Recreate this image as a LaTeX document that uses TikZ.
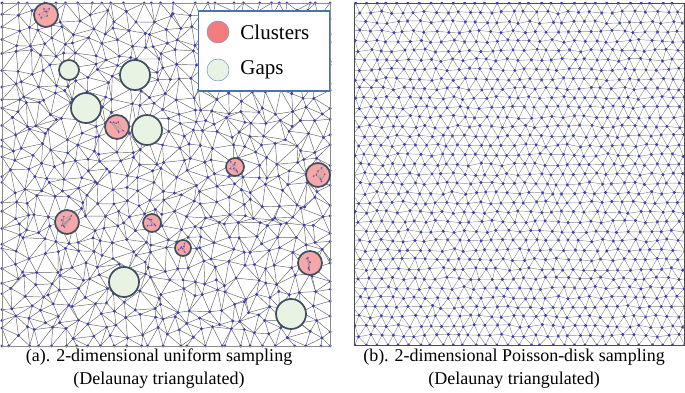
\documentclass[tikz,border=0pt]{standalone}
\usepackage{fontspec}
\setmainfont{Liberation Serif}
\usetikzlibrary{positioning}
\definecolor{meshdot}{RGB}{58,58,190}
\definecolor{innerdot}{RGB}{140,60,190}
\definecolor{clusterfill}{RGB}{246,168,168}
\definecolor{keyred}{RGB}{244,124,124}
\definecolor{gapfill}{RGB}{232,243,228}
\definecolor{ringcol}{RGB}{62,80,96}
\definecolor{legendcol}{RGB}{72,116,170}
\definecolor{keyring}{RGB}{110,150,200}

\begin{document}
\begin{tikzpicture}[x=1pt,y=-1pt]
\useasboundingbox (0,0) rectangle (685,393);
\tikzset{meshline/.style={draw=black!62,line width=0.45pt},
  meshlight/.style={draw=black!45,line width=0.45pt},
  innerline/.style={draw=black!40,line width=0.3pt},
  meshpt/.style={fill=meshdot},
  clusterbg/.style={fill=clusterfill},
  gapbg/.style={fill=gapfill},
  ring/.style={draw=ringcol,line width=1.7pt},
  keydot/.style={circle,minimum size=22pt,inner sep=0pt,line width=0.5pt,draw=keyring},
  keytext/.style={font=\fontsize{21}{25}\selectfont,inner sep=0pt},
  captext/.style={align=center,font=\fontsize{18}{23}\selectfont}}

% (a) uniform sampling
\pgfmathsetseed{11}
\foreach \i in {0,...,26}{
  \foreach \j in {0,...,26}{
    \pgfmathsetmacro\px{2+\i*12.62+(\i>0)*(\i<26)*rand*6}
    \pgfmathsetmacro\py{3+\j*13.19+(\j>0)*(\j<26)*rand*6.2}
    \expandafter\xdef\csname lx\i-\j\endcsname{\px}
    \expandafter\xdef\csname ly\i-\j\endcsname{\py}
    \coordinate (L-\i-\j) at (\px,\py);
  }}
\foreach \j in {0,...,26}
  \draw[meshline] (L-0-\j) \foreach \i in {1,...,26}{ -- (L-\i-\j)};
\foreach \i in {0,...,26}
  \draw[meshline] (L-\i-0) \foreach \j in {1,...,26}{ -- (L-\i-\j)};
\foreach \i [evaluate=\i as \k using int(\i+1)] in {0,...,25}{
  \foreach \j [evaluate=\j as \l using int(\j+1)] in {0,...,25}{
    \pgfmathtruncatemacro\pick{veclen(\csname lx\i-\j\endcsname-\csname lx\k-\l\endcsname,\csname ly\i-\j\endcsname-\csname ly\k-\l\endcsname)<veclen(\csname lx\k-\j\endcsname-\csname lx\i-\l\endcsname,\csname ly\k-\j\endcsname-\csname ly\i-\l\endcsname)}
    \ifnum\pick=1 \draw[meshline] (L-\i-\j) -- (L-\k-\l);\else\draw[meshline] (L-\k-\j) -- (L-\i-\l);\fi
  }}
\foreach \i in {0,...,26}
  \foreach \j in {0,...,26}
    \fill[meshpt] (L-\i-\j) circle (1.6pt);
\draw[black!45,line width=0.5pt] (2,3) rectangle (330,346);

\foreach \cx/\cy/\rr in {46/15/12,117/127/12,235/167/9,318/175/12,67/222/12,152/223/9,183/248/8,310/263/12}{
  \fill[clusterbg] (\cx,\cy) circle (\rr pt);
  \foreach \n in {1,...,7}
    \coordinate (P\n) at ({\cx+0.6*\rr*rand},{\cy+0.6*\rr*rand});
  \draw[innerline] (P1) -- (P2) -- (P3) -- (P1) -- (P4) -- (P5) -- (P6) -- (P4) (P2) -- (P5) (P3) -- (P6) -- (P7) -- (P1);
  \foreach \n in {1,...,7}
    \fill[innerdot] (P\n) circle (0.9pt);
  \draw[ring] (\cx,\cy) circle (\rr pt);
}
\foreach \cx/\cy/\rr in {69/70/10,135/75/15,86/108/15,147/130/15,124/282/15,291/314/15}
  \draw[ring,gapbg] (\cx,\cy) circle (\rr pt);

\node[draw=legendcol,line width=1.6pt,fill=white,minimum width=131pt,minimum height=80pt] (legend) at (264,51) {};
\node[keydot,fill=keyred] (keyC) at (218,32) {};
\node[keydot,fill=gapfill] (keyG) at (218,70) {};
\node[keytext] (labC) [right =11pt of keyC] {Clusters};
\node[keytext] (labG) [right =11pt of keyG] {Gaps};

% (b) Poisson-disk sampling
\begin{scope}
\clip (354,3) rectangle (684,345);
\foreach \j in {0,...,36}{
  \foreach \i in {0,...,31}{
    \coordinate (R-\i-\j) at ({354+(\i-1+0.5*mod(\j,2))*11+rand*1.7},{3+\j*9.5+(\j>0)*(\j<36)*rand*1.5});
  }}
\foreach \j in {0,...,36}
  \draw[meshlight] (R-0-\j) \foreach \i in {1,...,31}{ -- (R-\i-\j)};
\foreach \j [evaluate=\j as \k using int(\j+1)] in {0,...,35}{
  \ifodd\j \edef\ra{\k}\edef\rb{\j}\else\edef\ra{\j}\edef\rb{\k}\fi
  \draw[meshlight] (R-0-\ra) \foreach \i in {0,...,31}{ -- (R-\i-\ra) -- (R-\i-\rb)};
}
\foreach \i in {0,...,31}
  \foreach \j in {0,...,36}
    \fill[meshpt] (R-\i-\j) circle (1.6pt);
\end{scope}
\draw[black!70,line width=0.6pt] (354,3) rectangle (684,345);

\node[captext] (capA) at (159,369) {(a). 2-dimensional uniform sampling\\(Delaunay triangulated)};
\node[captext] (capB) at (514,369) {(b). 2-dimensional Poisson-disk sampling\\(Delaunay triangulated)};
\end{tikzpicture}
\end{document}
